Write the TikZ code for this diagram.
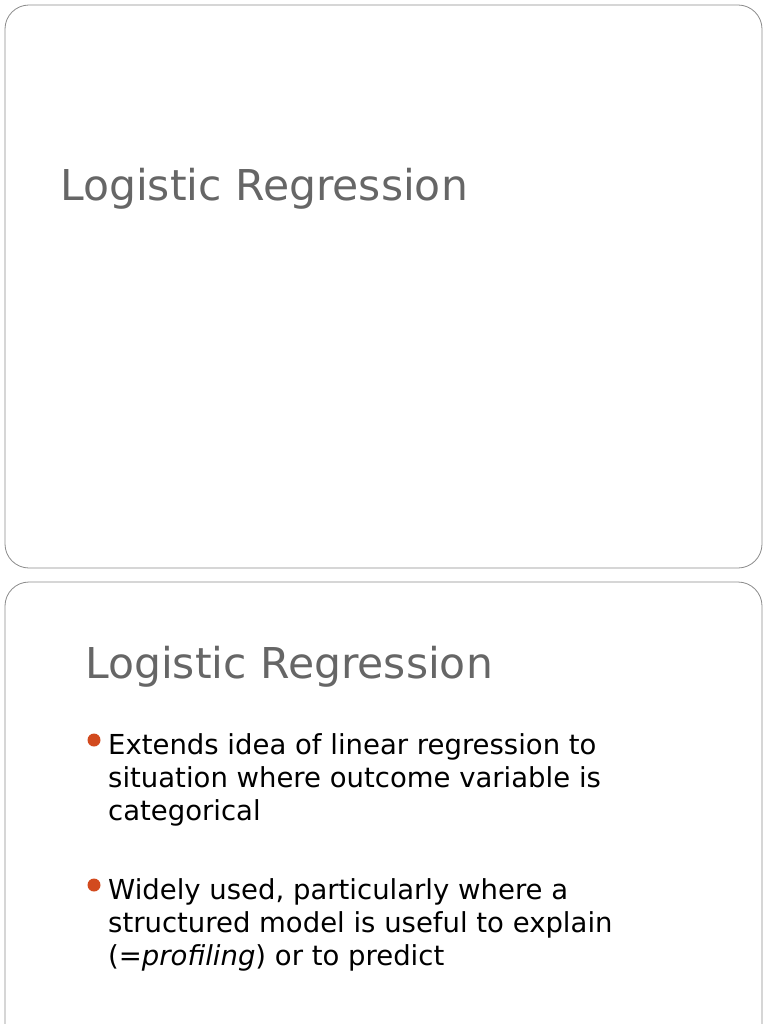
\documentclass[tikz,border=0pt]{standalone}
\usepackage{fontspec}
\setmainfont{DejaVu Sans}
\definecolor{ttl}{HTML}{666666}
\definecolor{bul}{HTML}{D24A1E}
\definecolor{frm}{HTML}{8A8A8A}
\begin{document}
\begin{tikzpicture}[x=1pt,y=-1pt,
  card/.style={draw=frm,line width=0.8pt,rounded corners=24pt},
  ttlt/.style={anchor=base west,inner sep=0pt,text=ttl,font=\fontsize{42.5}{50}\selectfont},
  btxt/.style={anchor=base west,inner sep=0pt,font=\fontsize{27.5}{33}\selectfont,align=left},
  dot/.style={circle,fill=bul,inner sep=0pt,minimum size=13pt}]
\useasboundingbox (0,0) rectangle (768,1024);
\draw[card] (5,5) rectangle (762,568);
\begin{scope}
\clip (0,0) rectangle (768,1024);
\draw[card] (5,582) rectangle (762,1100);
\end{scope}
\node[ttlt] (t1) at (60,201) {Logistic Regression};
\node[ttlt] (t2) at (85,678) {Logistic Regression};
\node[dot] (d1) at (94,740) {};
\node[btxt] (b1a) at (108,754) {Extends idea of linear regression to};
\node[btxt] (b1b) at (108,787) {situation where outcome variable is};
\node[btxt] (b1c) at (108,820) {categorical};
\node[dot] (d2) at (94,885) {};
\node[btxt] (b2a) at (108,899) {Widely used, particularly where a};
\node[btxt] (b2b) at (108,932) {structured model is useful to explain};
\node[btxt] (b2c) at (108,965) {(=\textit{profiling}) or to predict};
\end{tikzpicture}
\end{document}
